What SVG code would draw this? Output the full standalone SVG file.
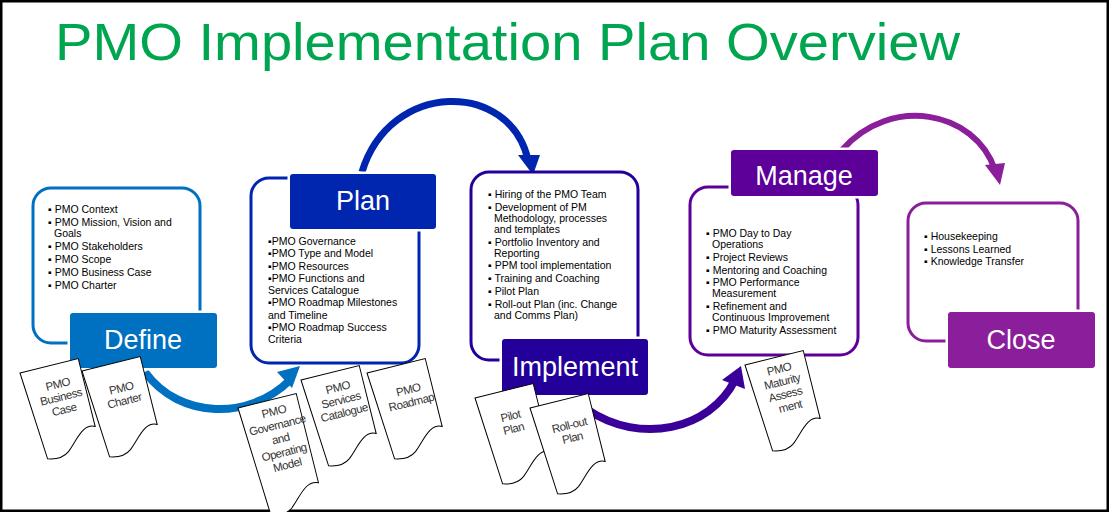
<svg xmlns="http://www.w3.org/2000/svg" width="1109" height="512" viewBox="0 0 1109 512">
<style>
.t{font-family:"Liberation Sans",Arial,sans-serif;font-size:10.5px;fill:#000}
.lbl{font-family:"Liberation Sans",Arial,sans-serif;font-size:27px;fill:#fff;text-anchor:middle}
.box{fill:#fff;stroke-width:3}
.lr{stroke:#fff;stroke-width:5;paint-order:stroke}
.doc{fill:#fff;stroke:#000;stroke-width:1}
.dt{font-family:"Liberation Sans",Arial,sans-serif;font-size:11.5px;fill:#333;text-anchor:middle;letter-spacing:-0.5px}
</style>
<defs>
<path id="pg" d="M0,0 H60 V70 C48,64 38,80 28,88 C20,94 12,92 6,90 Z"/>
<path id="pgT" d="M0,0 H60 V92 C48,86 38,102 28,110 C20,116 12,114 6,112 Z"/>
</defs>
<rect x="0" y="0" width="1109" height="512" fill="#fff"/>
<rect x="1" y="1" width="1107" height="510" fill="none" stroke="#000" stroke-width="3"/>
<text x="55" y="60" font-family="Liberation Sans,Arial,sans-serif" font-size="52" fill="#00A550" textLength="905" lengthAdjust="spacingAndGlyphs">PMO Implementation Plan Overview</text>

<g id="connectors" fill="none">
<path d="M145,372 C180,420 250,420 290,380" stroke="#0070C0" stroke-width="8"/>
<polygon points="300,366 277,372 292,388" fill="#0070C0"/>
<path d="M362,172 C390,80 510,80 528,160" stroke="#0026B0" stroke-width="7"/>
<polygon points="533,175 518,155 540,155" fill="#0026B0"/>
<path d="M588,410 C640,445 710,430 735,380" stroke="#3A0099" stroke-width="8"/>
<polygon points="741,366 722,380 745,389" fill="#3A0099"/>
<path d="M842,150 C890,95 975,110 995,170" stroke="#8B1E9A" stroke-width="6"/>
<polygon points="1000,185 985,165 1005,163" fill="#8B1E9A"/>
</g>

<g id="define">
<rect class="box" x="33" y="188" width="167" height="155" rx="18" stroke="#0070C0"/>
<text class="t" x="48" y="213">▪ PMO  Context
<tspan x="48" dy="13">▪ PMO  Mission, Vision and</tspan>
<tspan x="54" dy="11">Goals</tspan>
<tspan x="48" dy="13">▪ PMO  Stakeholders</tspan>
<tspan x="48" dy="12.5">▪ PMO  Scope</tspan>
<tspan x="48" dy="13">▪ PMO  Business Case</tspan>
<tspan x="48" dy="13">▪ PMO  Charter</tspan></text>
<rect class="lr" x="70" y="313" width="147" height="55" rx="3" fill="#0070C0"/>
<text class="lbl" x="143" y="349">Define</text>
</g>

<g id="plan">
<rect class="box" x="251" y="178" width="168" height="185" rx="18" stroke="#0026B0"/>
<rect class="lr" x="290" y="174" width="146" height="55" rx="3" fill="#0026B0"/>
<text class="lbl" x="363" y="210">Plan</text>
<text class="t" x="268" y="245">▪PMO  Governance
<tspan x="268" dy="12">▪PMO  Type and Model</tspan>
<tspan x="268" dy="13">▪PMO  Resources</tspan>
<tspan x="268" dy="12">▪PMO  Functions and</tspan>
<tspan x="268" dy="12">Services Catalogue</tspan>
<tspan x="268" dy="12">▪PMO  Roadmap Milestones</tspan>
<tspan x="268" dy="13">and Timeline</tspan>
<tspan x="268" dy="12">▪PMO  Roadmap Success</tspan>
<tspan x="268" dy="12">Criteria</tspan></text>
</g>

<g id="implement">
<rect class="box" x="471" y="172" width="167" height="188" rx="18" stroke="#220099"/>
<text class="t" x="488" y="198">▪ Hiring of the PMO  Team
<tspan x="488" dy="13">▪ Development of PM</tspan>
<tspan x="494" dy="11">Methodology, processes</tspan>
<tspan x="494" dy="11">and templates</tspan>
<tspan x="488" dy="13">▪ Portfolio Inventory and</tspan>
<tspan x="494" dy="11">Reporting</tspan>
<tspan x="488" dy="12">▪ PPM  tool implementation</tspan>
<tspan x="488" dy="13">▪ Training and Coaching</tspan>
<tspan x="488" dy="13">▪ Pilot  Plan</tspan>
<tspan x="488" dy="13">▪ Roll-out Plan (inc. Change</tspan>
<tspan x="494" dy="11">and Comms Plan)</tspan></text>
<rect class="lr" x="502" y="339" width="146" height="56" rx="3" fill="#220099"/>
<text class="lbl" x="575" y="376">Implement</text>
</g>

<g id="manage">
<rect class="box" x="690" y="187" width="168" height="168" rx="18" stroke="#5C0099"/>
<rect class="lr" x="731" y="150" width="147" height="46" rx="3" fill="#5C0099"/>
<text class="lbl" x="804" y="185">Manage</text>
<text class="t" x="706" y="237">▪ PMO  Day to Day
<tspan x="712" dy="11">Operations</tspan>
<tspan x="706" dy="13">▪ Project Reviews</tspan>
<tspan x="706" dy="13">▪ Mentoring and Coaching</tspan>
<tspan x="706" dy="12">▪ PMO  Performance</tspan>
<tspan x="712" dy="11">Measurement</tspan>
<tspan x="706" dy="13">▪ Refinement  and</tspan>
<tspan x="712" dy="11">Continuous Improvement</tspan>
<tspan x="706" dy="13">▪ PMO  Maturity Assessment</tspan></text>
</g>

<g id="close">
<rect class="box" x="908" y="203" width="170" height="138" rx="18" stroke="#8B1E9A"/>
<text class="t" x="924" y="240">▪ Housekeeping
<tspan x="924" dy="12.5">▪ Lessons Learned</tspan>
<tspan x="924" dy="12.5">▪ Knowledge Transfer</tspan></text>
<rect class="lr" x="948" y="312" width="147" height="56" rx="3" fill="#8B1E9A"/>
<text class="lbl" x="1021" y="349">Close</text>
</g>

<g id="doc-business-case" transform="translate(20,373) rotate(-14)">
<use href="#pg" class="doc"/>
<text class="dt" x="34" y="24">PMO<tspan x="34" dy="13">Business</tspan><tspan x="34" dy="13">Case</tspan></text>
</g>
<g id="doc-charter" transform="translate(82,371) rotate(-14)">
<use href="#pg" class="doc"/>
<text class="dt" x="34" y="30">PMO<tspan x="34" dy="13">Charter</tspan></text>
</g>
<g id="doc-governance" transform="translate(238,408) rotate(-14)">
<use href="#pgT" class="doc"/>
<text class="dt" x="34" y="16">PMO<tspan x="34" dy="14">Governance</tspan><tspan x="34" dy="14">and</tspan><tspan x="34" dy="14">Operating</tspan><tspan x="34" dy="13">Model</tspan></text>
</g>
<g id="doc-services" transform="translate(301,380) rotate(-14)">
<use href="#pg" class="doc"/>
<text class="dt" x="34" y="20">PMO<tspan x="34" dy="13">Services</tspan><tspan x="34" dy="13">Catalogue</tspan></text>
</g>
<g id="doc-roadmap" transform="translate(367,373) rotate(-14)">
<use href="#pg" class="doc"/>
<text class="dt" x="36" y="30">PMO<tspan x="36" dy="13">Roadmap</tspan></text>
</g>
<g id="doc-pilot" transform="translate(475,398) rotate(-14)">
<use href="#pg" class="doc"/>
<text class="dt" x="30" y="30">Pilot<tspan x="30" dy="13">Plan</tspan></text>
</g>
<g id="doc-rollout" transform="translate(530,408) rotate(-14)">
<use href="#pg" class="doc"/>
<text class="dt" x="34" y="30">Roll-out<tspan x="34" dy="13">Plan</tspan></text>
</g>
<g id="doc-maturity" transform="translate(745,365) rotate(-14)">
<use href="#pg" class="doc"/>
<text class="dt" x="32" y="16">PMO<tspan x="32" dy="13">Maturity</tspan><tspan x="32" dy="13">Assess</tspan><tspan x="34" dy="13">ment</tspan></text>
</g>
</svg>
